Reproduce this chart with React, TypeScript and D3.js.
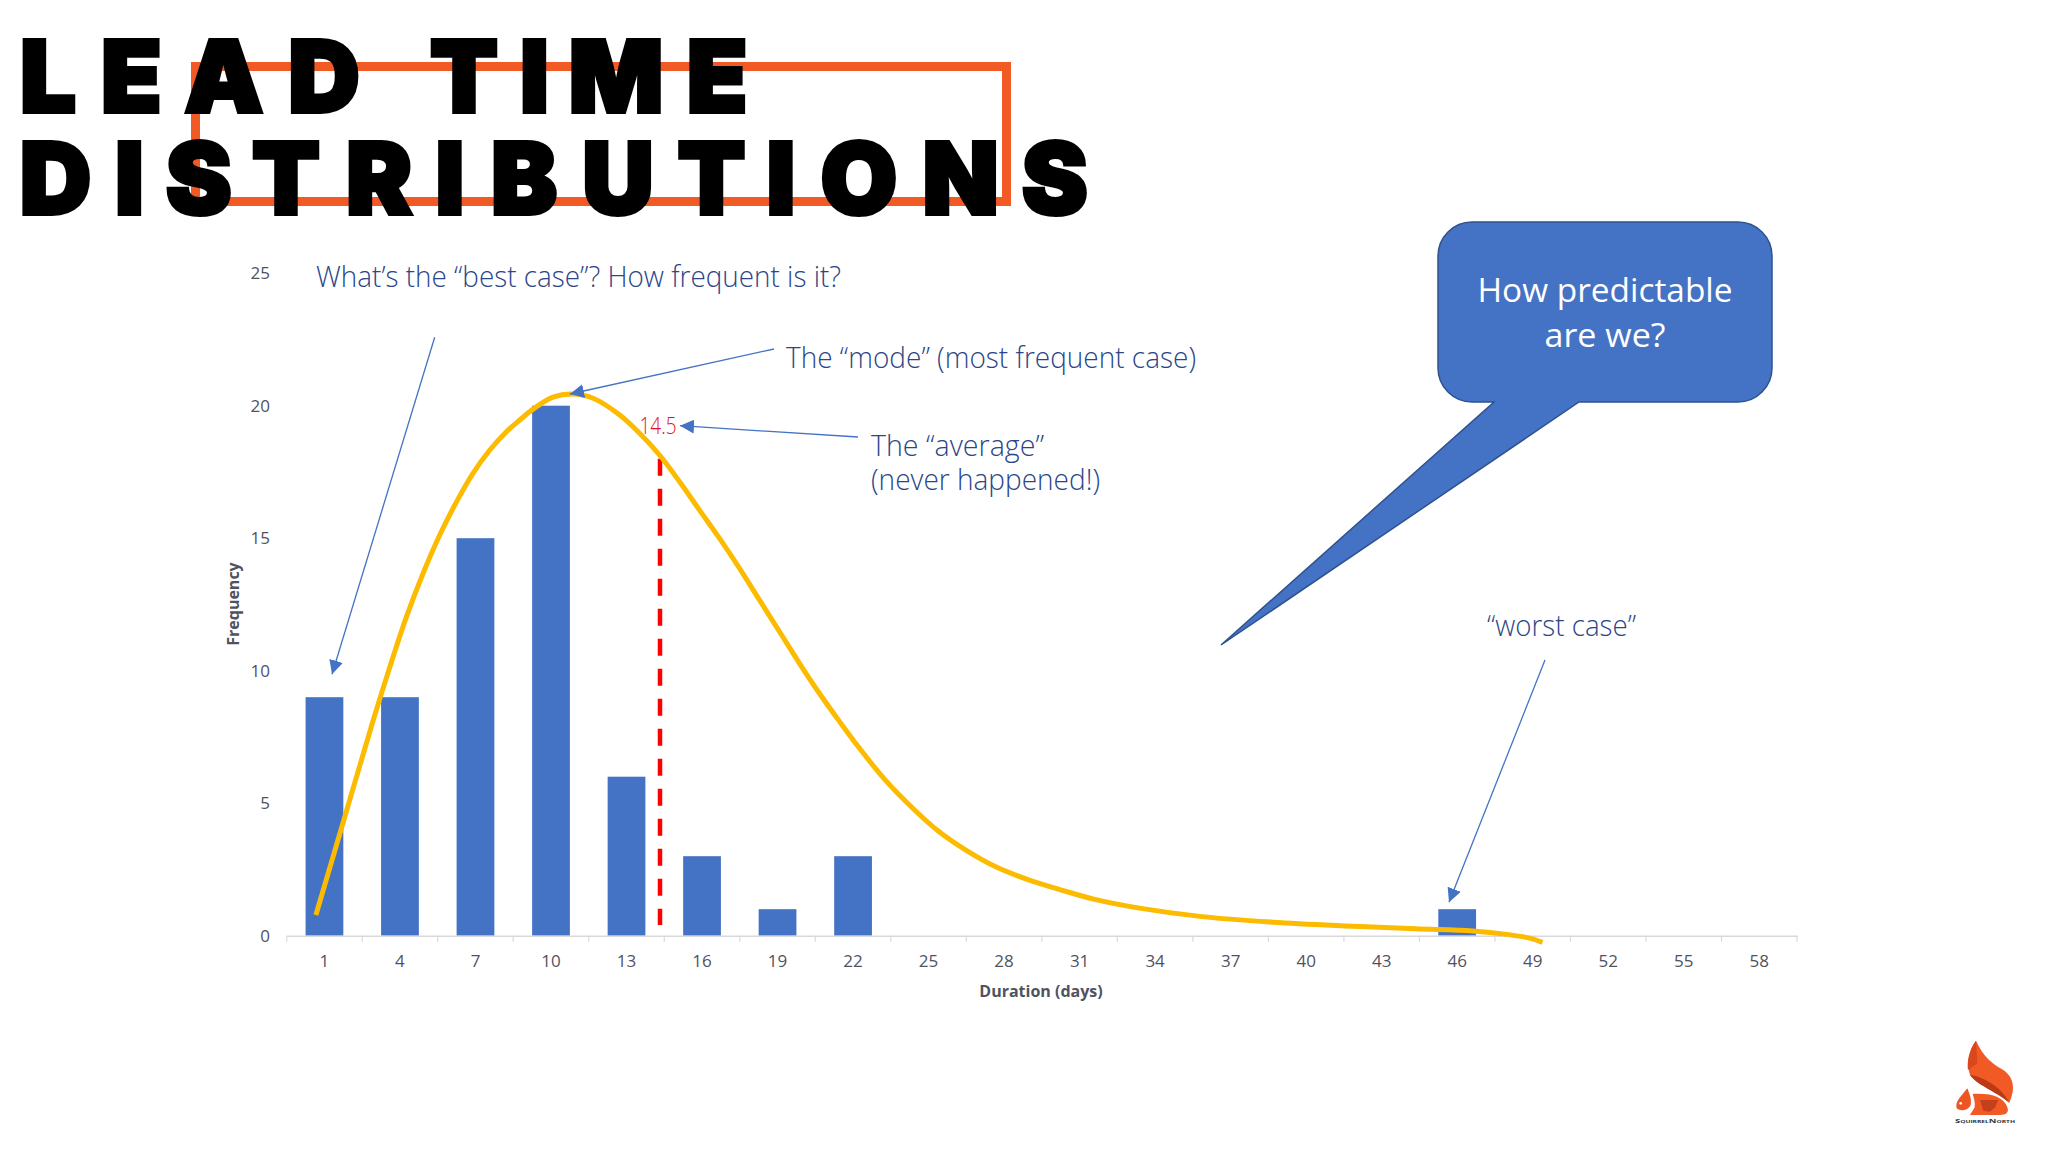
import { useEffect, useRef } from "react";
import * as d3 from "d3";

const durations = ["1","4","7","10","13","16","19","22","25","28","31","34","37","40","43","46","49","52","55","58"];
const frequency = [9,9,15,20,6,3,1,3,0,0,0,0,0,0,0,1,0,0,0,0];
const yTicks = [0,5,10,15,20,25];

// fitted curve
const curveDays = [0.66,1.75,2.94,3.6,4.26,4.92,5.58,6.25,6.9,7.57,8.23,8.76,9.29,10.08,10.87,11.67,12.73,13.52,14.31,15.11,15.9,16.69,17.49,18.28,19.08,19.87,20.66,21.48,22.25,23.31,24.36,25.42,26.48,27.67,29,30.19,31.6,33.44,35.86,38.68,41.54,44.35,46.62,48.04,48.88,49.39];
const curveFreq = [0.78,4.3,8.14,10.15,12.04,13.68,15.12,16.38,17.45,18.33,19.02,19.46,19.87,20.32,20.44,20.28,19.65,18.96,18.14,17.13,16.06,15,13.86,12.67,11.47,10.28,9.15,8.06,7.08,5.84,4.82,3.92,3.23,2.6,2.1,1.75,1.37,1.03,0.72,0.51,0.37,0.26,0.18,0.04,-0.09,-0.25];

const meanDay = 14.33;
const meanLine = [18, 0.4];
const meanLabel = "14.5";

const titleLine1 = "LEAD TIME";
const titleLine2 = "DISTRIBUTIONS";
const titleX1 = [47.9,131.4,223.9,323.9,400,463.9,534.3,616,717];
const titleX2 = [55.4,129.3,198.6,286,379,450,524,618,711.4,781,859,960.7,1054.6];

const notes = [
  { text: "What’s the “best case”? How frequent is it?", x: 316, y: 287, w: 525 },
  { text: "The “mode” (most frequent case)", x: 786, y: 368, w: 410 },
  { text: "The “average”", x: 871, y: 456, w: 173 },
  { text: "(never happened!)", x: 871, y: 490, w: 229 },
  { text: "“worst case”", x: 1487, y: 636, w: 149 },
];

const arrows = [
  [434.7, 337.3, 332, 674.3],
  [774, 349, 570, 394],
  [858, 437, 680, 425.7],
  [1545, 660, 1449, 902.3],
];

const left = 286.7;
const right = 1797;
const axisY = 935.7;
const top25 = 273.2;

const x = d3.scaleBand<string>().domain(durations).range([left, right]).paddingInner(0.5).paddingOuter(0.25);
const y = d3.scaleLinear().domain([0, 25]).range([axisY, top25]);
const xDay = d3
  .scaleLinear()
  .domain([1, 58])
  .range([x("1")! + x.bandwidth() / 2, x("58")! + x.bandwidth() / 2]);
const curve = d3
  .line<number>()
  .x((d) => xDay(d))
  .y((_, i) => y(curveFreq[i]))
  .curve(d3.curveCatmullRom);

const blue = "#4472c4";
const noteColor = "#2b4688";
const tickColor = "#50535f";
const sans = "'Open Sans', sans-serif";

const App = () => {
  const xAxisRef = useRef<SVGGElement | null>(null);
  const yAxisRef = useRef<SVGGElement | null>(null);

  useEffect(() => {
    const gx = d3.select(xAxisRef.current!);
    gx.selectAll("*").remove();
    gx.call(d3.axisBottom(x).tickSize(0).tickPadding(19.5) as any);
    gx.select(".domain").attr("stroke", "#d9d9d9").attr("stroke-width", 1.5);
    gx.selectAll("text").attr("fill", tickColor).attr("font-size", 17).attr("font-family", sans);
    // excel puts the tick marks between the categories
    gx.selectAll("line.edge")
      .data(d3.range(durations.length + 1))
      .enter()
      .append("line")
      .attr("class", "edge")
      .attr("x1", (i) => left + i * x.step())
      .attr("x2", (i) => left + i * x.step())
      .attr("y1", 0)
      .attr("y2", 6)
      .attr("stroke", "#d9d9d9")
      .attr("stroke-width", 1.2);

    const gy = d3.select(yAxisRef.current!);
    gy.selectAll("*").remove();
    gy.call(d3.axisLeft(y).tickValues(yTicks).tickSize(0).tickPadding(0) as any);
    gy.select(".domain").remove();
    gy.selectAll("text").attr("fill", tickColor).attr("font-size", 17).attr("font-family", sans);
  }, []);

  return (
    <svg
      width={2048}
      height={1152}
      viewBox="0 0 2048 1152"
      style={{ position: "absolute", left: 0, top: 0, background: "#fff" }}
    >
      <defs>
        <marker id="head" viewBox="0 0 14 14" refX={14} refY={7} markerWidth={14} markerHeight={14} orient="auto" markerUnits="userSpaceOnUse">
          <path d="M0,0 L14,7 L0,14 Z" fill={blue} />
        </marker>
      </defs>

      <rect x={195.5} y={66.5} width={811} height={135} fill="none" stroke="#f15a24" strokeWidth={9} />
      <g fontFamily="Inter, sans-serif" fontWeight={900} fontSize={99} fill="#000" stroke="#000" strokeWidth={4} strokeLinejoin="miter" textAnchor="middle">
        <text x={titleX1.join(" ")} y={111.5}>{titleLine1}</text>
        <text x={titleX2.join(" ")} y={213.5}>{titleLine2}</text>
      </g>

      {durations.map((d, i) => (
        <rect key={d} x={x(d)} y={y(frequency[i])} width={x.bandwidth()} height={axisY - y(frequency[i])} fill={blue} />
      ))}

      <g ref={xAxisRef} transform={`translate(0,${axisY})`} />
      <g ref={yAxisRef} transform="translate(270,0)" />

      <text x={1041} y={997} textAnchor="middle" fontFamily={sans} fontWeight={700} fontSize={16} fill={tickColor}>Duration (days)</text>
      <text transform="translate(238.5,604) rotate(-90)" textAnchor="middle" fontFamily={sans} fontWeight={700} fontSize={16} fill={tickColor}>Frequency</text>

      <line x1={xDay(meanDay)} x2={xDay(meanDay)} y1={y(meanLine[0])} y2={y(meanLine[1])} stroke="#ff0000" strokeWidth={4.5} strokeDasharray="17 13" />
      <path d={curve(curveDays) ?? ""} fill="none" stroke="#fdbb00" strokeWidth={5} />
      <text x={639.5} y={434} fontFamily={sans} fontWeight={300} fontSize={23.5} fill="#e2101e" textLength={37} lengthAdjust="spacingAndGlyphs">{meanLabel}</text>

      {arrows.map((a, i) => (
        <line key={i} x1={a[0]} y1={a[1]} x2={a[2]} y2={a[3]} stroke={blue} strokeWidth={1.3} markerEnd="url(#head)" />
      ))}
      {notes.map((n) => (
        <text key={n.text} x={n.x} y={n.y} fontFamily={sans} fontWeight={300} fontSize={29.5} fill={noteColor} textLength={n.w} lengthAdjust="spacingAndGlyphs">{n.text}</text>
      ))}

      <path
        d="M1472,222 H1738 A34,34 0 0 1 1772,256 V368 A34,34 0 0 1 1738,402 H1579 L1221,645 L1494,402 H1472 A34,34 0 0 1 1438,368 V256 A34,34 0 0 1 1472,222 Z"
        fill={blue}
        stroke="#2f528f"
        strokeWidth={1.5}
      />
      <g fontFamily={sans} fontSize={33} fill="#fff" textAnchor="middle">
        <text x={1605} y={302} textLength={255} lengthAdjust="spacingAndGlyphs">How predictable</text>
        <text x={1605} y={347} textLength={121} lengthAdjust="spacingAndGlyphs">are we?</text>
      </g>

      <g transform="translate(1900,1020) scale(0.3333)">
        <path d="M228,62 C205,90 200,130 210,165 C230,195 290,215 328,248 C345,210 345,175 310,150 C275,130 250,110 228,62 Z" fill="#f15a24" />
        <path d="M228,62 C208,90 200,125 204,150 L232,130 Z" fill="#d9481c" />
        <path d="M210,165 C245,168 305,200 328,248 C290,215 230,195 210,165 Z" fill="#b93a16" />
        <path d="M218,222 C270,218 312,230 322,262 C328,278 318,285 300,285 L210,285 L224,262 C226,248 222,235 218,222 Z" fill="#f15a24" />
        <path d="M240,240 L295,240 L285,262 L270,275 L250,272 Z" fill="#c4401a" />
        <path d="M202,205 C208,220 216,238 212,255 C205,272 180,275 170,265 C164,245 186,226 202,205 Z" fill="#ee5522" />
        <circle cx={182} cy={250} r={4} fill="#fff" />
        <text x={165} y={310} fontFamily={sans} fontWeight={700} fontSize={17} fill="#333" style={{ fontVariant: "small-caps" }} textLength={180} lengthAdjust="spacingAndGlyphs">SquirrelNorth</text>
      </g>
    </svg>
  );
};

export default App;
